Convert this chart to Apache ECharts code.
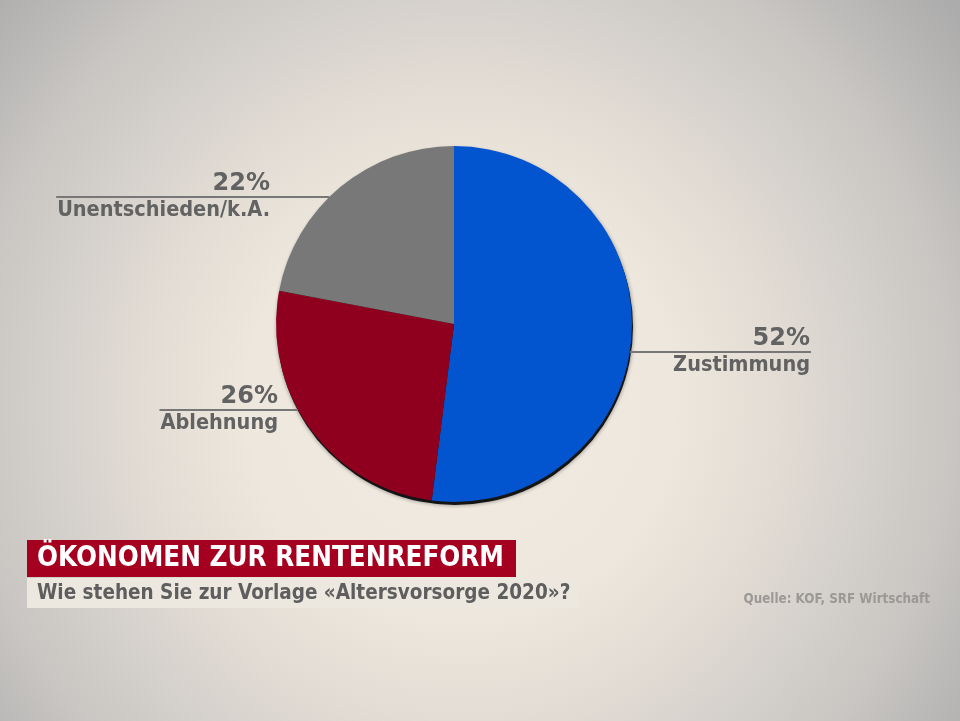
<!DOCTYPE html>
<html>
<head>
<meta charset="utf-8">
<script src="https://cdn.jsdelivr.net/npm/echarts@6/dist/echarts.min.js"></script>
<style>html,body{margin:0;padding:0;}#c{width:960px;height:721px;}</style>
</head>
<body>
<div id="c"></div>
<script>
// ---- data ----
const categories = ['Zustimmung', 'Ablehnung', 'Unentschieden/k.A.'];
const values = [52, 26, 22];
const titleText = 'ÖKONOMEN ZUR RENTENREFORM';
const subtitleText = 'Wie stehen Sie zur Vorlage «Altersvorsorge 2020»?';
const sourceText = 'Quelle: KOF, SRF Wirtschaft';

// ---- style / layout ----
const colors = ['#0354cf', '#8f001f', '#787878'];
const labelRightX = [810, 278, 270];
const labelLineY = [352, 410, 197];
const CX = 454, CY = 324, R = 178;

const chart = echarts.init(document.getElementById('c'));
const total = values.reduce((a, b) => a + b, 0);

function edgeX(y, side) {
  const d = Math.sqrt(Math.max(0, R * R - (y - CY) * (y - CY)));
  return side > 0 ? CX + d : CX - d;
}

chart.setOption({
  backgroundColor: {
    type: 'radial', x: 0.48, y: 0.56, r: 0.92,
    colorStops: [
      { offset: 0, color: '#f1ebe1' },
      { offset: 0.32, color: '#ede7dd' },
      { offset: 0.48, color: '#e2dcd4' },
      { offset: 0.62, color: '#d4d0cb' },
      { offset: 0.74, color: '#c9c6c3' },
      { offset: 0.9, color: '#b3b2b1' },
      { offset: 1, color: '#a8a7a8' }
    ]
  },
  title: [
    {
      text: titleText, left: 27, top: 540,
      backgroundColor: '#a5001f', padding: [5, 12, 4, 10],
      textStyle: { color: '#ffffff', fontSize: 27.5, fontWeight: 'bold', fontFamily: 'DejaVu Sans Condensed' }
    },
    {
      text: subtitleText, left: 27, top: 578,
      backgroundColor: '#ece7df', padding: [5, 8, 4, 10],
      textStyle: { color: '#5e5e5e', fontSize: 20.5, fontWeight: 'bold', fontFamily: 'DejaVu Sans Condensed' }
    },
    {
      text: sourceText, right: 25, top: 588,
      textStyle: { color: '#9b9895', fontSize: 13.3, fontWeight: 'bold', fontFamily: 'DejaVu Sans Condensed' }
    }
  ],
  series: [
    {
      type: 'pie', silent: true, z: 1,
      center: [CX + 1, CY + 3], radius: R,
      label: { show: false }, labelLine: { show: false },
      itemStyle: { color: '#141414', shadowBlur: 4, shadowColor: 'rgba(0,0,0,0.45)' },
      data: [{ value: total, name: 'shadow' }]
    },
    {
      type: 'pie', z: 2,
      center: [CX, CY], radius: R,
      startAngle: 90, clockwise: true,
      avoidLabelOverlap: false,
      animation: false,
      itemStyle: { borderWidth: 0 },
      label: {
        show: true, position: 'outside',
        formatter: p => '{p|' + p.value + '%}\n{n|' + p.name + '}',
        rich: {
          p: { fontSize: 24, fontWeight: 'bold', fontFamily: 'DejaVu Sans', color: '#626262', lineHeight: 27, align: 'right' },
          n: { fontSize: 21.5, fontWeight: 'bold', fontFamily: 'DejaVu Sans Condensed', color: '#626262', lineHeight: 27, align: 'right' }
        }
      },
      labelLine: { show: true, length: 0, length2: 0, lineStyle: { color: '#777777', width: 2 } },
      labelLayout: function (params) {
        const i = params.dataIndex;
        const w = params.labelRect.width;
        const y = labelLineY[i];
        const xr = labelRightX[i];
        const side = xr > CX ? 1 : -1;
        const pts = side > 0
          ? [[edgeX(y, 1), y], [xr + 1, y]]
          : [[edgeX(y, -1), y], [xr - w - 1, y]];
        return { x: xr, y: y, align: 'right', verticalAlign: 'middle', labelLinePoints: pts };
      },
      data: categories.map((c, i) => ({ name: c, value: values[i], itemStyle: { color: colors[i] } }))
    }
  ]
});
</script>
</body>
</html>
